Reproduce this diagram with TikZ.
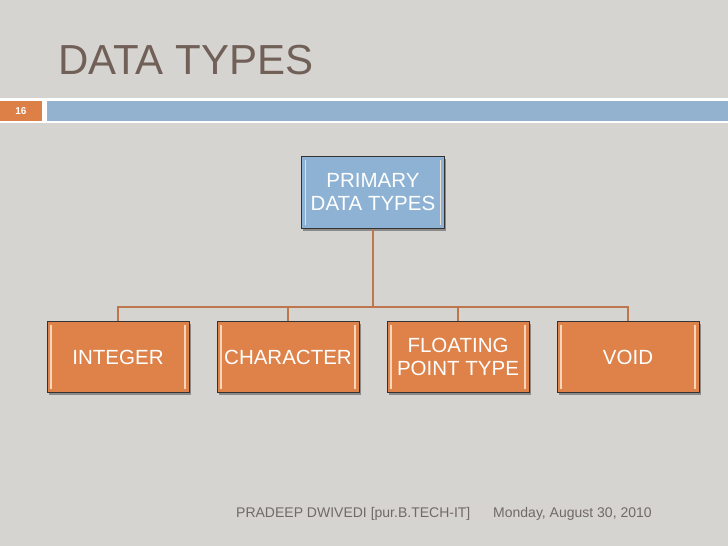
\documentclass[tikz,border=0pt]{standalone}
\usepackage{fontspec}
\setmainfont{Liberation Sans}
\usetikzlibrary{shadows}
\definecolor{bg}{RGB}{214,212,209}
\definecolor{titlec}{RGB}{112,96,88}
\definecolor{bandblue}{RGB}{146,178,208}
\definecolor{bandorange}{RGB}{221,128,71}
\definecolor{boxorange}{RGB}{222,130,74}
\definecolor{boxblue}{RGB}{142,178,211}
\definecolor{connc}{RGB}{190,118,76}
\definecolor{footc}{RGB}{112,106,102}
\definecolor{hlc}{RGB}{255,236,215}
\tikzset{
  box/.style={draw=black!80, line width=0.8pt, minimum width=142pt, minimum height=71pt,
    inner sep=0pt, align=center, text=white, font=\fontsize{20.5}{23}\selectfont,
    drop shadow={shadow xshift=1.5pt, shadow yshift=-2pt, opacity=0.35, fill=black}},
  orangebox/.style={box, fill=boxorange},
  bluebox/.style={box, fill=boxblue, minimum width=143pt, minimum height=72pt},
  conn/.style={draw=connc, line width=1.8pt},
  hl/.style={draw=hlc, line width=1.5pt, opacity=0.8},
}
\begin{document}
\begin{tikzpicture}[x=1pt,y=-1pt]
\path[use as bounding box, fill=bg] (0,0) rectangle (728,546);
% title
\node[anchor=base west, inner sep=0pt, text=titlec, font=\fontsize{42}{48}\selectfont] (title) at (58,74) {DATA TYPES};
% bands
\fill[white] (0,98) rectangle (728,123);
\fill[bandorange] (0,101) rectangle (42,121);
\fill[bandblue] (47,101) rectangle (728,121);
\node[text=white, font=\fontsize{10}{12}\selectfont\bfseries, inner sep=0pt] (num) at (21,111) {16};
% boxes
\node[bluebox] (p) at (373,192.5) {PRIMARY\\DATA TYPES};
\node[orangebox] (int) at (118,357) {INTEGER};
\node[orangebox] (chr) at (288,357) {CHARACTER};
\node[orangebox] (flt) at (458,357) {FLOATING\\POINT TYPE};
\node[orangebox] (vd) at (628,357) {VOID};
% highlights
\foreach \n in {p,int,chr,flt,vd}{
  \draw[hl] ([xshift=4.5pt,yshift=-4pt]\n.north west) -- ([xshift=4.5pt,yshift=4pt]\n.south west);
  \draw[hl] ([xshift=-4.5pt,yshift=-4pt]\n.north east) -- ([xshift=-4.5pt,yshift=4pt]\n.south east);
}
% connectors
\coordinate (bus) at (0,307);
\foreach \n in {int,chr,flt,vd}{
  \draw[conn] (p.south) -- (p.south |- bus) -| (\n.north);
}
% footer
\node[anchor=base west, inner sep=0pt, text=footc, font=\fontsize{14}{16}\selectfont] (auth) at (236,517) {PRADEEP DWIVEDI [pur.B.TECH-IT]};
\node[anchor=base west, inner sep=0pt, text=footc, font=\fontsize{14}{16}\selectfont] (date) at (493,517) {Monday, August 30, 2010};
\end{tikzpicture}
\end{document}
